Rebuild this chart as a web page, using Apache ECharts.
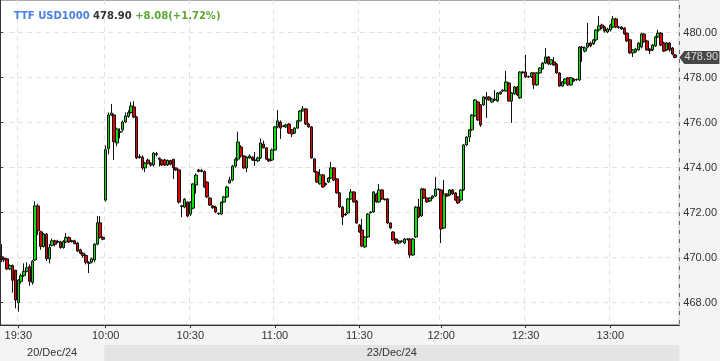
<!DOCTYPE html>
<html><head><meta charset="utf-8">
<script src="https://cdn.jsdelivr.net/npm/echarts@6/dist/echarts.min.js"></script>
<style>html,body{margin:0;padding:0;background:#f3f4f6}#c{width:720px;height:361px}</style>
</head><body><div id="c"></div>
<script>
// ---- data ----
const instrument = 'TTF USD1000';
const lastPrice = 478.90;
const change = '+8.08(+1.72%)';
const timeTickLabels = ['19:30','10:00','10:30','11:00','11:30','12:00','12:30','13:00'];
const priceTicks = [468, 470, 472, 474, 476, 478, 480];
const sessions = [
  {day: '20/Dec/24', from: '19:24', to: '20:00', skip: []},
  {day: '23/Dec/24', from: '10:00', to: '13:24', skip: ['11:45']}
];
const opens = [
470.05,469.98,469.95,469.50,469.65,469.45,468.00,468.95,469.20,469.40,
469.60,468.90,469.90,472.30,471.15,470.50,471.05,469.95,470.55,470.75,
470.70,470.70,470.45,470.70,470.90,470.75,470.75,470.65,470.35,470.20,
470.10,469.75,469.80,469.90,470.60,471.55,470.90,472.56,474.85,476.34,
476.34,475.10,475.57,475.68,476.03,476.28,476.45,476.70,476.25,474.45,
474.47,473.99,474.34,474.20,474.12,474.62,474.42,474.34,474.34,474.12,
474.32,474.37,473.99,473.90,472.30,472.25,472.47,471.94,472.20,473.23,
473.90,473.83,473.83,473.36,472.65,472.30,472.25,471.97,471.94,472.47,
472.70,473.32,473.45,474.07,474.38,474.92,474.52,473.99,474.43,474.47,
474.34,474.30,474.43,475.05,474.88,474.38,474.34,474.79,475.81,476.03,
475.84,475.81,475.94,475.68,475.54,475.76,476.08,476.52,476.61,475.94,
475.81,474.39,473.81,473.28,473.68,473.30,473.36,473.54,473.99,473.50,
472.88,472.25,471.94,471.99,472.61,472.92,472.52,471.45,471.23,470.48,
470.92,472.00,472.03,472.83,472.48,473.01,472.60,472.61,471.54,471.14,
470.83,470.65,470.74,470.65,470.83,470.83,470.12,470.92,472.25,471.86,
473.05,472.65,472.52,472.65,472.74,473.05,473.01,471.32,472.83,472.78,
473.01,472.88,472.70,472.56,473.01,475.01,475.36,475.68,476.30,476.92,
476.79,476.79,477.05,477.14,476.92,477.05,476.96,477.28,477.41,477.41,
477.76,476.96,477.28,477.59,477.10,478.25,478.25,478.03,478.03,478.21,
477.68,478.21,478.39,478.65,478.92,478.61,478.70,478.61,478.21,477.63,
477.76,477.99,477.68,477.94,477.90,477.90,479.36,479.18,479.36,479.54,
479.50,479.68,480.12,480.34,480.25,480.03,480.12,480.25,480.61,480.25,
480.25,480.20,479.98,479.68,479.10,479.14,479.23,479.36,479.94,479.63,
479.27,479.23,479.41,479.81,479.98,479.54,479.23,479.54,479.32,479.01];
const closes = [
469.95,469.90,469.50,469.65,469.00,468.12,469.00,469.20,469.40,469.55,
468.95,469.85,472.30,471.20,470.50,471.05,469.95,470.45,470.75,470.60,
470.72,470.45,470.72,470.90,470.70,470.72,470.62,470.30,470.20,470.10,
469.80,469.78,469.95,470.60,471.55,470.90,470.82,474.80,476.34,476.43,
475.15,475.72,475.60,476.03,476.30,476.45,476.74,476.25,474.43,474.50,
473.99,474.20,474.20,474.12,474.65,474.58,474.37,474.12,474.12,474.32,
474.15,473.99,473.90,472.47,472.28,472.60,471.85,472.47,473.28,473.67,
473.83,473.88,473.14,472.70,472.34,472.22,472.03,471.95,472.47,472.70,
473.14,473.45,474.07,474.38,475.14,474.52,473.99,474.47,474.52,474.34,
474.32,474.43,475.10,474.88,474.38,474.30,474.79,475.81,476.08,475.76,
475.86,475.90,475.54,475.50,475.76,476.08,476.52,476.61,475.94,475.81,
474.43,473.81,473.36,473.68,473.14,473.24,473.54,473.99,473.45,472.88,
472.25,471.81,471.90,472.61,472.92,472.48,471.54,471.14,470.52,470.92,
471.94,472.03,472.92,472.48,473.01,472.61,472.58,471.54,471.32,470.79,
470.65,470.74,470.72,470.83,470.81,470.12,470.83,472.25,471.81,473.05,
472.65,472.48,472.65,472.74,473.05,473.03,471.28,472.83,472.74,473.01,
472.83,472.56,472.43,473.01,475.01,475.36,475.68,476.34,477.01,476.12,
475.90,477.14,477.14,477.01,477.05,477.00,477.32,477.36,477.44,477.81,
476.96,477.32,477.59,477.23,478.25,478.22,478.03,478.05,478.21,477.68,
478.21,478.43,478.65,478.92,478.61,478.79,478.56,478.21,477.63,477.81,
477.94,477.68,477.99,477.85,477.92,479.36,479.33,479.32,479.54,479.41,
479.68,480.12,480.30,480.21,480.07,480.16,480.34,480.61,480.25,480.22,
480.16,479.94,479.63,479.10,479.23,479.27,479.54,479.94,479.59,479.23,
479.20,479.45,479.81,479.98,479.45,479.18,479.54,479.23,479.05,478.90];
const lows = [
469.80,469.80,469.45,469.45,468.45,467.75,467.60,468.85,469.15,469.35,
468.75,468.80,469.85,471.00,470.35,470.45,469.85,469.75,470.50,470.50,
470.65,470.40,470.40,470.65,470.65,470.68,470.60,470.25,470.15,470.00,
469.70,469.32,469.75,469.80,470.55,470.85,470.78,472.50,474.60,476.30,
474.34,474.95,475.30,475.60,475.98,476.22,476.40,476.20,474.38,474.40,
473.90,473.80,474.15,474.05,474.05,474.50,474.05,474.08,474.08,474.08,
474.10,473.50,473.85,472.40,471.80,472.20,471.80,471.85,472.15,472.85,
473.80,473.80,473.10,472.65,472.30,472.18,471.98,471.90,471.90,472.45,
472.65,473.30,473.40,474.00,474.30,474.45,473.95,473.80,474.40,474.30,
474.08,474.25,474.40,474.85,474.35,474.25,474.30,474.75,475.75,475.28,
475.80,475.76,475.50,475.36,475.50,475.72,476.05,476.50,475.90,475.78,
474.40,473.78,473.32,473.25,473.10,473.20,473.32,473.50,473.40,472.84,
472.20,471.45,471.85,471.95,472.58,472.44,471.50,471.10,470.48,470.44,
470.88,471.96,472.00,472.44,472.44,472.57,472.54,471.50,471.28,470.75,
470.60,470.60,470.68,470.60,470.77,469.99,470.08,470.88,471.77,471.82,
472.61,472.44,472.48,472.61,472.70,472.99,470.65,471.28,472.70,472.74,
472.79,472.52,472.39,472.50,472.97,474.97,475.14,475.64,476.26,476.08,
475.81,476.75,476.21,476.97,476.88,476.96,476.92,477.24,477.38,477.38,
476.92,475.99,477.24,477.19,477.06,478.18,477.99,477.99,477.99,477.50,
477.64,478.17,478.35,478.61,478.57,478.57,478.52,478.17,477.59,477.59,
477.72,477.64,477.64,477.81,477.86,477.85,478.70,479.12,479.30,479.35,
479.45,479.60,480.05,480.15,480.00,479.98,480.05,480.20,480.20,480.18,
480.12,479.90,479.58,479.05,478.92,479.10,479.20,479.30,479.55,479.20,
479.05,479.18,479.36,479.76,479.40,479.14,479.18,479.15,479.00,478.86];
const highs = [
470.60,470.05,470.00,469.70,469.70,469.45,469.05,469.30,469.75,469.80,
469.70,469.90,472.50,472.40,471.20,471.10,471.10,470.60,470.85,470.80,
470.80,470.75,470.78,471.10,470.95,470.80,470.80,470.70,470.40,470.25,
470.15,469.85,470.00,470.65,471.85,471.85,470.95,474.99,476.45,476.83,
476.40,475.78,475.75,476.10,476.45,476.55,476.92,476.95,476.30,474.60,
474.55,474.25,474.40,474.25,474.70,474.70,474.45,474.38,474.40,474.36,
474.35,474.40,474.00,473.95,472.35,472.65,472.50,472.50,473.30,473.75,
473.95,473.95,473.88,473.40,472.70,472.34,472.30,472.00,472.50,472.75,
473.20,473.60,474.12,474.45,475.60,475.00,474.56,474.50,474.60,474.50,
474.70,474.50,475.30,475.20,474.90,474.40,474.85,475.85,476.56,476.10,
475.90,475.95,475.98,475.72,475.80,476.12,476.56,476.74,476.65,475.98,
475.85,474.43,473.85,473.94,473.72,473.34,473.58,474.25,474.03,473.54,
472.92,472.30,471.98,472.65,473.05,472.96,472.56,471.50,471.72,470.96,
471.98,472.06,472.96,472.88,473.28,473.05,472.64,472.65,471.58,471.18,
470.87,470.78,470.78,470.87,470.87,470.87,470.87,472.30,472.61,473.10,
473.09,472.69,472.69,472.78,473.59,473.09,473.05,473.45,472.87,473.05,
473.05,472.92,472.74,473.05,475.05,475.40,475.72,476.38,477.05,476.96,
476.83,477.18,477.36,477.18,477.09,477.45,477.36,477.40,477.48,478.30,
477.80,477.36,477.63,477.63,478.29,478.29,479.01,478.09,478.25,478.25,
478.25,478.47,478.69,479.32,478.96,478.83,478.92,478.65,478.25,477.85,
477.98,478.03,478.03,477.98,477.96,479.40,479.40,479.38,480.43,479.60,
479.72,480.15,480.74,480.40,480.30,480.22,480.40,480.74,480.66,480.30,
480.28,480.25,480.00,479.72,479.27,479.32,479.58,480.00,479.98,479.68,
479.30,479.50,479.86,480.12,480.02,479.60,479.58,479.58,479.36,479.05];

// ---- build categories (one per minute in each session) ----
function minuteList(from, to, skip) {
  const out = [];
  let [h, m] = from.split(':').map(Number);
  const [th, tm] = to.split(':').map(Number);
  while (h * 60 + m <= th * 60 + tm) {
    const s = String(h).padStart(2, '0') + ':' + String(m).padStart(2, '0');
    if (!skip.includes(s)) out.push(s);
    m++; if (m === 60) { m = 0; h++; }
  }
  return out;
}
const categories = [];
const sessionRanges = [];
sessions.forEach(s => {
  const list = minuteList(s.from, s.to, s.skip);
  sessionRanges.push({day: s.day, start: categories.length, end: categories.length + list.length - 1});
  categories.push(...list);
});
const candles = opens.map((o, i) => [o, closes[i], lows[i], highs[i]]);

const showTick = (idx, val) => timeTickLabels.includes(categories[idx]);
const FONT = 'Liberation Sans';

const chart = echarts.init(document.getElementById('c'), null, {renderer: 'canvas'});
const option = {
  animation: false,
  backgroundColor: '#f3f4f6',
  title: {
    text: '{a|' + instrument + '} {b|' + lastPrice.toFixed(2) + '} {c|' + change + '}',
    left: 9, top: 6,
    textStyle: {
      fontFamily: 'DejaVu Sans', fontSize: 10, fontWeight: 'bold',
      rich: {
        a: {color: '#4a80e6', fontFamily: 'DejaVu Sans', fontSize: 10, fontWeight: 'bold'},
        b: {color: '#333333', fontFamily: 'DejaVu Sans', fontSize: 10, fontWeight: 'bold'},
        c: {color: '#5aa832', fontFamily: 'DejaVu Sans', fontSize: 10, fontWeight: 'bold'}
      }
    }
  },
  grid: {left: 0, right: 39, top: 0, bottom: 36, show: true, backgroundColor: '#ffffff', borderColor: '#555', borderWidth: 1, containLabel: false},
  xAxis: [{
    type: 'category', data: categories, boundaryGap: true,
    axisLine: {show: true, lineStyle: {color: '#333'}},
    axisTick: {show: true, interval: showTick, alignWithLabel: true, length: 3, lineStyle: {color: '#333'}},
    axisLabel: {interval: showTick, color: '#333', fontSize: 11, fontFamily: FONT, margin: 5},
    splitLine: {show: true, interval: showTick, lineStyle: {type: [5, 4], color: '#e2e2e2'}}
  }, {
    type: 'value', min: 0, max: 1, show: false
  }],
  yAxis: {
    type: 'value', position: 'right', min: 467.01, max: 481.45, scale: true,
    axisLine: {show: true, lineStyle: {color: '#333'}},
    axisTick: {show: true, customValues: priceTicks, length: 3, lineStyle: {color: '#333'}},
    axisLabel: {customValues: priceTicks, formatter: v => Number(v).toFixed(2), color: '#333', fontSize: 11, fontFamily: FONT, margin: 4},
    splitLine: {show: true, lineStyle: {type: [5, 4], color: '#e2e2e2'}}
  },
  series: [{
    type: 'candlestick', data: candles, barWidth: 3,
    itemStyle: {color: '#10e010', color0: '#e00000', borderColor: '#111', borderColor0: '#111', borderWidth: 1}
  }, {
    type: 'scatter', xAxisIndex: 1, data: [[1, lastPrice]], clip: false, z: 10,
    symbol: 'path://M0,6.5 L5,0 L40,0 L40,13 L5,13 Z', symbolSize: [40, 13], symbolKeepAspect: false,
    symbolOffset: [20, 0],
    itemStyle: {color: '#1a1a1a'},
    label: {show: true, position: 'inside', formatter: () => lastPrice.toFixed(2), color: '#fff', fontSize: 11, fontFamily: FONT, offset: [2, 0]},
    emphasis: {disabled: true}
  }]
};
chart.setOption(option);

// day bands under the time axis
const g = [];
const half = (chart.convertToPixel({xAxisIndex: 0}, 1) - chart.convertToPixel({xAxisIndex: 0}, 0)) / 2;
sessionRanges.forEach((r, k) => {
  const x0 = Math.max(0, chart.convertToPixel({xAxisIndex: 0}, r.start) - half);
  const x1 = chart.convertToPixel({xAxisIndex: 0}, r.end) + half;
  if (k % 2 === 1) g.push({type: 'rect', shape: {x: x0, y: 345, width: x1 - x0, height: 16}, style: {fill: '#e3e4e6'}, silent: true});
  g.push({type: 'text', x: (x0 + x1) / 2, y: 353, style: {text: r.day, fill: '#333', font: '11px ' + FONT, align: 'center', verticalAlign: 'middle'}, silent: true});
});
chart.setOption({graphic: g});
</script>
</body></html>
